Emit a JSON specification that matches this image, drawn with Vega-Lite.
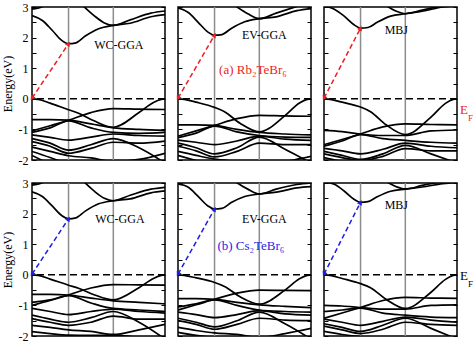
{
"$schema":"https://vega.github.io/schema/vega-lite/v6.json",
"padding":{"left":0,"top":0,"right":0,"bottom":0},
"config":{"view":{"stroke":"black","strokeWidth":1.5},"font":"Liberation Serif","axis":{"labelFont":"Liberation Serif","titleFont":"Liberation Serif","labelFontSize":12,"titleFontSize":12,"titleFontWeight":"normal","labelColor":"black","titleColor":"black","tickColor":"black","domain":false,"grid":false},"text":{"font":"Liberation Serif"}},
"datasets":{
"kp":[{"x":0.707},{"x":1.573}],
"arrows":[
{"p":"a1","c":"a","end":"bot","x":0,"e":0.02},{"p":"a1","c":"a","end":"top","x":0.707,"e":1.8},
{"p":"a2","c":"a","end":"bot","x":0,"e":0.02},{"p":"a2","c":"a","end":"top","x":0.707,"e":2.08},
{"p":"a3","c":"a","end":"bot","x":0,"e":0.02},{"p":"a3","c":"a","end":"top","x":0.707,"e":2.31},
{"p":"b1","c":"b","end":"bot","x":0,"e":0.02},{"p":"b1","c":"b","end":"top","x":0.707,"e":1.83},
{"p":"b2","c":"b","end":"bot","x":0,"e":0.02},{"p":"b2","c":"b","end":"top","x":0.707,"e":2.15},
{"p":"b3","c":"b","end":"bot","x":0,"e":0.02},{"p":"b3","c":"b","end":"top","x":0.707,"e":2.37}],
"texts":[
{"p":"a1","r":"lab","t":"WC-GGA","x":1.68,"e":1.77,"c":"k"},
{"p":"a2","r":"lab","t":"EV-GGA","x":1.67,"e":2.07,"c":"k"},
{"p":"a2","r":"mat","t":"(a) Rb₂TeBr₆","x":1.45,"e":0.93,"c":"a"},
{"p":"a3","r":"lab","t":"MBJ","x":1.4,"e":2.24,"c":"k"},
{"p":"a3","r":"E","t":"E","x":2.573,"e":-0.37,"c":"a"},
{"p":"a3","r":"F","t":"F","x":2.573,"e":-0.62,"c":"a"},
{"p":"b1","r":"lab","t":"WC-GGA","x":1.7,"e":1.81,"c":"k"},
{"p":"b2","r":"lab","t":"EV-GGA","x":1.67,"e":1.83,"c":"k"},
{"p":"b2","r":"mat","t":"(b) Cs₂TeBr₆","x":1.41,"e":0.93,"c":"b"},
{"p":"b3","r":"lab","t":"MBJ","x":1.4,"e":2.28,"c":"k"},
{"p":"b3","r":"E","t":"E","x":2.573,"e":-0.05,"c":"k"},
{"p":"b3","r":"F","t":"F","x":2.573,"e":-0.3,"c":"k"}],
"bands":[
{"p":"a1","b":"c1","x":0,"e":2.72},{"p":"a1","b":"c1","x":0.2,"e":2.56},{"p":"a1","b":"c1","x":0.39,"e":2.24},{"p":"a1","b":"c1","x":0.58,"e":1.9},{"p":"a1","b":"c1","x":0.707,"e":1.8},{"p":"a1","b":"c1","x":0.85,"e":1.83},{"p":"a1","b":"c1","x":1.03,"e":2.05},{"p":"a1","b":"c1","x":1.29,"e":2.29},{"p":"a1","b":"c1","x":1.573,"e":2.4},{"p":"a1","b":"c1","x":1.9,"e":2.47},{"p":"a1","b":"c1","x":2.3,"e":2.68},{"p":"a1","b":"c1","x":2.573,"e":2.75},
{"p":"a1","b":"c2","x":0.98,"e":3.05},{"p":"a1","b":"c2","x":1.2,"e":2.72},{"p":"a1","b":"c2","x":1.4,"e":2.48},{"p":"a1","b":"c2","x":1.573,"e":2.4},{"p":"a1","b":"c2","x":1.9,"e":2.58},{"p":"a1","b":"c2","x":2.3,"e":2.8},{"p":"a1","b":"c2","x":2.573,"e":2.87},
{"p":"a1","b":"c3","x":0,"e":2.93},{"p":"a1","b":"c3","x":0.15,"e":2.98},{"p":"a1","b":"c3","x":0.3,"e":3.08},
{"p":"a1","b":"c4","x":0,"e":2.97},{"p":"a1","b":"c4","x":0.08,"e":3.03},
{"p":"a1","b":"v1","x":0,"e":0},{"p":"a1","b":"v1","x":0.12,"e":-0.02},{"p":"a1","b":"v1","x":0.35,"e":-0.14},{"p":"a1","b":"v1","x":0.707,"e":-0.36},{"p":"a1","b":"v1","x":0.9,"e":-0.47},{"p":"a1","b":"v1","x":1.2,"e":-0.72},{"p":"a1","b":"v1","x":1.573,"e":-0.93},{"p":"a1","b":"v1","x":2.07,"e":-0.45},{"p":"a1","b":"v1","x":2.35,"e":-0.12},{"p":"a1","b":"v1","x":2.5,"e":-0.02},{"p":"a1","b":"v1","x":2.573,"e":0},
{"p":"a1","b":"v2","x":0,"e":-1.05},{"p":"a1","b":"v2","x":0.35,"e":-0.88},{"p":"a1","b":"v2","x":0.707,"e":-0.7},{"p":"a1","b":"v2","x":1.14,"e":-0.45},{"p":"a1","b":"v2","x":1.573,"e":-0.32},{"p":"a1","b":"v2","x":2.07,"e":-0.34},{"p":"a1","b":"v2","x":2.573,"e":-0.35},
{"p":"a1","b":"v3","x":0,"e":-0.68},{"p":"a1","b":"v3","x":0.35,"e":-0.68},{"p":"a1","b":"v3","x":0.707,"e":-0.7},{"p":"a1","b":"v3","x":1.14,"e":-0.82},{"p":"a1","b":"v3","x":1.573,"e":-0.95},{"p":"a1","b":"v3","x":2.07,"e":-1.0},{"p":"a1","b":"v3","x":2.573,"e":-1.03},
{"p":"a1","b":"v4","x":0,"e":-1.1},{"p":"a1","b":"v4","x":0.35,"e":-0.95},{"p":"a1","b":"v4","x":0.707,"e":-0.72},{"p":"a1","b":"v4","x":1.14,"e":-0.95},{"p":"a1","b":"v4","x":1.573,"e":-1.1},{"p":"a1","b":"v4","x":2.07,"e":-1.13},{"p":"a1","b":"v4","x":2.573,"e":-1.1},
{"p":"a1","b":"v5","x":0,"e":-1.18},{"p":"a1","b":"v5","x":0.35,"e":-1.26},{"p":"a1","b":"v5","x":0.707,"e":-1.35},{"p":"a1","b":"v5","x":1.14,"e":-1.25},{"p":"a1","b":"v5","x":1.573,"e":-1.15},{"p":"a1","b":"v5","x":2.07,"e":-1.2},{"p":"a1","b":"v5","x":2.573,"e":-1.22},
{"p":"a1","b":"v6","x":0,"e":-1.3},{"p":"a1","b":"v6","x":0.35,"e":-1.45},{"p":"a1","b":"v6","x":0.707,"e":-1.68},{"p":"a1","b":"v6","x":1.14,"e":-1.5},{"p":"a1","b":"v6","x":1.573,"e":-1.3},{"p":"a1","b":"v6","x":2.07,"e":-1.6},{"p":"a1","b":"v6","x":2.573,"e":-2.1},
{"p":"a1","b":"v7","x":0,"e":-1.4},{"p":"a1","b":"v7","x":0.35,"e":-1.55},{"p":"a1","b":"v7","x":0.707,"e":-1.78},{"p":"a1","b":"v7","x":1.14,"e":-1.62},{"p":"a1","b":"v7","x":1.573,"e":-1.42},{"p":"a1","b":"v7","x":2.07,"e":-1.45},{"p":"a1","b":"v7","x":2.573,"e":-1.38},
{"p":"a1","b":"v8","x":0,"e":-1.58},{"p":"a1","b":"v8","x":0.35,"e":-1.72},{"p":"a1","b":"v8","x":0.707,"e":-1.86},{"p":"a1","b":"v8","x":1.14,"e":-1.93},{"p":"a1","b":"v8","x":1.573,"e":-2.05},{"p":"a1","b":"v8","x":2.07,"e":-1.98},{"p":"a1","b":"v8","x":2.573,"e":-1.78},
{"p":"a1","b":"v9","x":0,"e":-1.72},{"p":"a1","b":"v9","x":0.35,"e":-1.92},{"p":"a1","b":"v9","x":0.707,"e":-2.15},
{"p":"a1","b":"v10","x":0,"e":-1.85},{"p":"a1","b":"v10","x":0.3,"e":-2.1},
{"p":"a2","b":"c1","x":0,"e":2.97},{"p":"a2","b":"c1","x":0.2,"e":2.82},{"p":"a2","b":"c1","x":0.39,"e":2.5},{"p":"a2","b":"c1","x":0.58,"e":2.18},{"p":"a2","b":"c1","x":0.707,"e":2.08},{"p":"a2","b":"c1","x":0.85,"e":2.1},{"p":"a2","b":"c1","x":1.03,"e":2.3},{"p":"a2","b":"c1","x":1.29,"e":2.52},{"p":"a2","b":"c1","x":1.573,"e":2.62},{"p":"a2","b":"c1","x":1.9,"e":2.68},{"p":"a2","b":"c1","x":2.3,"e":2.88},{"p":"a2","b":"c1","x":2.573,"e":2.95},
{"p":"a2","b":"c2","x":1.1,"e":3.05},{"p":"a2","b":"c2","x":1.35,"e":2.78},{"p":"a2","b":"c2","x":1.573,"e":2.62},{"p":"a2","b":"c2","x":1.9,"e":2.8},{"p":"a2","b":"c2","x":2.3,"e":3.02},
{"p":"a2","b":"v1","x":0,"e":0},{"p":"a2","b":"v1","x":0.12,"e":-0.02},{"p":"a2","b":"v1","x":0.35,"e":-0.11},{"p":"a2","b":"v1","x":0.707,"e":-0.28},{"p":"a2","b":"v1","x":0.9,"e":-0.42},{"p":"a2","b":"v1","x":1.2,"e":-0.8},{"p":"a2","b":"v1","x":1.573,"e":-1.08},{"p":"a2","b":"v1","x":2.07,"e":-0.55},{"p":"a2","b":"v1","x":2.35,"e":-0.14},{"p":"a2","b":"v1","x":2.5,"e":-0.02},{"p":"a2","b":"v1","x":2.573,"e":0},
{"p":"a2","b":"v2","x":0,"e":-1.22},{"p":"a2","b":"v2","x":0.35,"e":-1.05},{"p":"a2","b":"v2","x":0.707,"e":-0.87},{"p":"a2","b":"v2","x":1.14,"e":-0.65},{"p":"a2","b":"v2","x":1.573,"e":-0.54},{"p":"a2","b":"v2","x":2.07,"e":-0.56},{"p":"a2","b":"v2","x":2.573,"e":-0.57},
{"p":"a2","b":"v3","x":0,"e":-0.85},{"p":"a2","b":"v3","x":0.35,"e":-0.85},{"p":"a2","b":"v3","x":0.707,"e":-0.87},{"p":"a2","b":"v3","x":1.14,"e":-1.0},{"p":"a2","b":"v3","x":1.573,"e":-1.1},{"p":"a2","b":"v3","x":2.07,"e":-1.15},{"p":"a2","b":"v3","x":2.573,"e":-1.18},
{"p":"a2","b":"v4","x":0,"e":-1.27},{"p":"a2","b":"v4","x":0.35,"e":-1.12},{"p":"a2","b":"v4","x":0.707,"e":-0.89},{"p":"a2","b":"v4","x":1.14,"e":-1.08},{"p":"a2","b":"v4","x":1.573,"e":-1.2},{"p":"a2","b":"v4","x":2.07,"e":-1.25},{"p":"a2","b":"v4","x":2.573,"e":-1.26},
{"p":"a2","b":"v5","x":0,"e":-1.35},{"p":"a2","b":"v5","x":0.35,"e":-1.42},{"p":"a2","b":"v5","x":0.707,"e":-1.5},{"p":"a2","b":"v5","x":1.14,"e":-1.38},{"p":"a2","b":"v5","x":1.573,"e":-1.22},{"p":"a2","b":"v5","x":2.07,"e":-1.32},{"p":"a2","b":"v5","x":2.573,"e":-1.36},
{"p":"a2","b":"v6","x":0,"e":-1.45},{"p":"a2","b":"v6","x":0.35,"e":-1.6},{"p":"a2","b":"v6","x":0.707,"e":-1.8},{"p":"a2","b":"v6","x":1.14,"e":-1.6},{"p":"a2","b":"v6","x":1.573,"e":-1.25},{"p":"a2","b":"v6","x":2.07,"e":-1.65},{"p":"a2","b":"v6","x":2.573,"e":-2.1},
{"p":"a2","b":"v7","x":0,"e":-1.55},{"p":"a2","b":"v7","x":0.35,"e":-1.7},{"p":"a2","b":"v7","x":0.707,"e":-1.9},{"p":"a2","b":"v7","x":1.14,"e":-1.72},{"p":"a2","b":"v7","x":1.573,"e":-1.45},{"p":"a2","b":"v7","x":2.07,"e":-1.5},{"p":"a2","b":"v7","x":2.573,"e":-1.5},
{"p":"a2","b":"v8","x":0,"e":-1.72},{"p":"a2","b":"v8","x":0.35,"e":-1.85},{"p":"a2","b":"v8","x":0.707,"e":-1.97},{"p":"a2","b":"v8","x":1.14,"e":-2.05},{"p":"a2","b":"v8","x":1.573,"e":-2.15},{"p":"a2","b":"v8","x":2.07,"e":-2.05},{"p":"a2","b":"v8","x":2.573,"e":-1.88},
{"p":"a2","b":"v9","x":0,"e":-1.85},{"p":"a2","b":"v9","x":0.35,"e":-2.02},{"p":"a2","b":"v9","x":0.707,"e":-2.2},
{"p":"a3","b":"c1","x":0,"e":3.03},{"p":"a3","b":"c1","x":0.2,"e":2.93},{"p":"a3","b":"c1","x":0.39,"e":2.7},{"p":"a3","b":"c1","x":0.58,"e":2.42},{"p":"a3","b":"c1","x":0.707,"e":2.31},{"p":"a3","b":"c1","x":0.85,"e":2.33},{"p":"a3","b":"c1","x":1.03,"e":2.5},{"p":"a3","b":"c1","x":1.29,"e":2.7},{"p":"a3","b":"c1","x":1.573,"e":2.78},{"p":"a3","b":"c1","x":1.9,"e":2.86},{"p":"a3","b":"c1","x":2.3,"e":3.0},{"p":"a3","b":"c1","x":2.573,"e":3.05},
{"p":"a3","b":"c2","x":1.2,"e":3.05},{"p":"a3","b":"c2","x":1.4,"e":2.86},{"p":"a3","b":"c2","x":1.573,"e":2.78},{"p":"a3","b":"c2","x":1.9,"e":2.9},{"p":"a3","b":"c2","x":2.3,"e":3.05},
{"p":"a3","b":"v1","x":0,"e":0},{"p":"a3","b":"v1","x":0.12,"e":-0.02},{"p":"a3","b":"v1","x":0.35,"e":-0.11},{"p":"a3","b":"v1","x":0.707,"e":-0.27},{"p":"a3","b":"v1","x":0.9,"e":-0.42},{"p":"a3","b":"v1","x":1.2,"e":-0.85},{"p":"a3","b":"v1","x":1.573,"e":-1.17},{"p":"a3","b":"v1","x":2.07,"e":-0.6},{"p":"a3","b":"v1","x":2.35,"e":-0.15},{"p":"a3","b":"v1","x":2.5,"e":-0.02},{"p":"a3","b":"v1","x":2.573,"e":0},
{"p":"a3","b":"v2","x":0,"e":-1.5},{"p":"a3","b":"v2","x":0.35,"e":-1.33},{"p":"a3","b":"v2","x":0.707,"e":-1.15},{"p":"a3","b":"v2","x":1.14,"e":-0.92},{"p":"a3","b":"v2","x":1.573,"e":-0.82},{"p":"a3","b":"v2","x":2.07,"e":-0.84},{"p":"a3","b":"v2","x":2.573,"e":-0.85},
{"p":"a3","b":"v3","x":0,"e":-1.03},{"p":"a3","b":"v3","x":0.35,"e":-1.07},{"p":"a3","b":"v3","x":0.707,"e":-1.15},{"p":"a3","b":"v3","x":1.14,"e":-1.2},{"p":"a3","b":"v3","x":1.573,"e":-1.2},{"p":"a3","b":"v3","x":2.07,"e":-1.05},{"p":"a3","b":"v3","x":2.573,"e":-1.02},
{"p":"a3","b":"v4","x":0,"e":-1.55},{"p":"a3","b":"v4","x":0.35,"e":-1.38},{"p":"a3","b":"v4","x":0.707,"e":-1.17},{"p":"a3","b":"v4","x":1.14,"e":-1.3},{"p":"a3","b":"v4","x":1.573,"e":-1.36},{"p":"a3","b":"v4","x":2.07,"e":-1.42},{"p":"a3","b":"v4","x":2.573,"e":-1.45},
{"p":"a3","b":"v5","x":0,"e":-1.62},{"p":"a3","b":"v5","x":0.35,"e":-1.7},{"p":"a3","b":"v5","x":0.707,"e":-1.8},{"p":"a3","b":"v5","x":1.14,"e":-1.65},{"p":"a3","b":"v5","x":1.573,"e":-1.45},{"p":"a3","b":"v5","x":2.07,"e":-1.55},{"p":"a3","b":"v5","x":2.573,"e":-1.6},
{"p":"a3","b":"v6","x":0,"e":-1.72},{"p":"a3","b":"v6","x":0.35,"e":-1.85},{"p":"a3","b":"v6","x":0.707,"e":-1.98},{"p":"a3","b":"v6","x":1.14,"e":-1.8},{"p":"a3","b":"v6","x":1.573,"e":-1.52},{"p":"a3","b":"v6","x":2.07,"e":-1.8},{"p":"a3","b":"v6","x":2.573,"e":-2.1},
{"p":"a3","b":"v7","x":0,"e":-1.8},{"p":"a3","b":"v7","x":0.35,"e":-1.92},{"p":"a3","b":"v7","x":0.707,"e":-2.02},{"p":"a3","b":"v7","x":1.14,"e":-1.88},{"p":"a3","b":"v7","x":1.573,"e":-1.63},{"p":"a3","b":"v7","x":2.07,"e":-1.7},{"p":"a3","b":"v7","x":2.573,"e":-1.7},
{"p":"a3","b":"v8","x":0,"e":-1.92},{"p":"a3","b":"v8","x":0.35,"e":-2.05},{"p":"a3","b":"v8","x":0.707,"e":-2.15},
{"p":"b1","b":"c1","x":0,"e":2.71},{"p":"b1","b":"c1","x":0.2,"e":2.56},{"p":"b1","b":"c1","x":0.39,"e":2.25},{"p":"b1","b":"c1","x":0.58,"e":1.93},{"p":"b1","b":"c1","x":0.707,"e":1.83},{"p":"b1","b":"c1","x":0.85,"e":1.86},{"p":"b1","b":"c1","x":1.03,"e":2.08},{"p":"b1","b":"c1","x":1.29,"e":2.32},{"p":"b1","b":"c1","x":1.573,"e":2.42},{"p":"b1","b":"c1","x":1.9,"e":2.48},{"p":"b1","b":"c1","x":2.3,"e":2.68},{"p":"b1","b":"c1","x":2.573,"e":2.74},
{"p":"b1","b":"c2","x":1.0,"e":3.05},{"p":"b1","b":"c2","x":1.2,"e":2.74},{"p":"b1","b":"c2","x":1.4,"e":2.5},{"p":"b1","b":"c2","x":1.573,"e":2.42},{"p":"b1","b":"c2","x":1.9,"e":2.6},{"p":"b1","b":"c2","x":2.3,"e":2.8},{"p":"b1","b":"c2","x":2.573,"e":2.86},
{"p":"b1","b":"c3","x":0,"e":2.93},{"p":"b1","b":"c3","x":0.15,"e":2.98},{"p":"b1","b":"c3","x":0.3,"e":3.08},
{"p":"b1","b":"c4","x":0,"e":2.97},{"p":"b1","b":"c4","x":0.08,"e":3.03},
{"p":"b1","b":"v1","x":0,"e":0},{"p":"b1","b":"v1","x":0.12,"e":-0.02},{"p":"b1","b":"v1","x":0.35,"e":-0.14},{"p":"b1","b":"v1","x":0.707,"e":-0.34},{"p":"b1","b":"v1","x":0.9,"e":-0.44},{"p":"b1","b":"v1","x":1.2,"e":-0.65},{"p":"b1","b":"v1","x":1.573,"e":-0.82},{"p":"b1","b":"v1","x":2.07,"e":-0.42},{"p":"b1","b":"v1","x":2.35,"e":-0.12},{"p":"b1","b":"v1","x":2.5,"e":-0.02},{"p":"b1","b":"v1","x":2.573,"e":0},
{"p":"b1","b":"v2","x":0,"e":-1.0},{"p":"b1","b":"v2","x":0.35,"e":-0.84},{"p":"b1","b":"v2","x":0.707,"e":-0.66},{"p":"b1","b":"v2","x":1.14,"e":-0.43},{"p":"b1","b":"v2","x":1.573,"e":-0.32},{"p":"b1","b":"v2","x":2.07,"e":-0.33},{"p":"b1","b":"v2","x":2.573,"e":-0.34},
{"p":"b1","b":"v3","x":0,"e":-0.64},{"p":"b1","b":"v3","x":0.35,"e":-0.64},{"p":"b1","b":"v3","x":0.707,"e":-0.66},{"p":"b1","b":"v3","x":1.14,"e":-0.76},{"p":"b1","b":"v3","x":1.573,"e":-0.85},{"p":"b1","b":"v3","x":2.07,"e":-0.9},{"p":"b1","b":"v3","x":2.573,"e":-0.95},
{"p":"b1","b":"v4","x":0,"e":-0.9},{"p":"b1","b":"v4","x":0.35,"e":-0.82},{"p":"b1","b":"v4","x":0.707,"e":-0.68},{"p":"b1","b":"v4","x":1.14,"e":-0.92},{"p":"b1","b":"v4","x":1.573,"e":-1.1},{"p":"b1","b":"v4","x":2.07,"e":-1.15},{"p":"b1","b":"v4","x":2.573,"e":-1.2},
{"p":"b1","b":"v5","x":0,"e":-1.1},{"p":"b1","b":"v5","x":0.35,"e":-1.2},{"p":"b1","b":"v5","x":0.707,"e":-1.3},{"p":"b1","b":"v5","x":1.14,"e":-1.2},{"p":"b1","b":"v5","x":1.573,"e":-1.12},{"p":"b1","b":"v5","x":2.07,"e":-1.2},{"p":"b1","b":"v5","x":2.573,"e":-1.25},
{"p":"b1","b":"v6","x":0,"e":-1.32},{"p":"b1","b":"v6","x":0.35,"e":-1.45},{"p":"b1","b":"v6","x":0.707,"e":-1.55},{"p":"b1","b":"v6","x":1.14,"e":-1.4},{"p":"b1","b":"v6","x":1.573,"e":-1.2},{"p":"b1","b":"v6","x":2.07,"e":-1.55},{"p":"b1","b":"v6","x":2.573,"e":-2.1},
{"p":"b1","b":"v7","x":0,"e":-1.43},{"p":"b1","b":"v7","x":0.35,"e":-1.55},{"p":"b1","b":"v7","x":0.707,"e":-1.65},{"p":"b1","b":"v7","x":1.14,"e":-1.55},{"p":"b1","b":"v7","x":1.573,"e":-1.35},{"p":"b1","b":"v7","x":2.07,"e":-1.45},{"p":"b1","b":"v7","x":2.573,"e":-1.45},
{"p":"b1","b":"v8","x":0,"e":-1.65},{"p":"b1","b":"v8","x":0.35,"e":-1.72},{"p":"b1","b":"v8","x":0.707,"e":-1.8},{"p":"b1","b":"v8","x":1.14,"e":-1.85},{"p":"b1","b":"v8","x":1.573,"e":-1.95},{"p":"b1","b":"v8","x":2.07,"e":-1.8},{"p":"b1","b":"v8","x":2.573,"e":-1.62},
{"p":"b1","b":"v9","x":0,"e":-1.86},{"p":"b1","b":"v9","x":0.35,"e":-1.92},{"p":"b1","b":"v9","x":0.707,"e":-1.97},{"p":"b1","b":"v9","x":1.14,"e":-1.98},{"p":"b1","b":"v9","x":1.573,"e":-1.98},{"p":"b1","b":"v9","x":2.07,"e":-2.05},{"p":"b1","b":"v9","x":2.573,"e":-2.2},
{"p":"b2","b":"c1","x":0,"e":2.97},{"p":"b2","b":"c1","x":0.2,"e":2.86},{"p":"b2","b":"c1","x":0.39,"e":2.56},{"p":"b2","b":"c1","x":0.58,"e":2.25},{"p":"b2","b":"c1","x":0.707,"e":2.15},{"p":"b2","b":"c1","x":0.85,"e":2.17},{"p":"b2","b":"c1","x":1.03,"e":2.36},{"p":"b2","b":"c1","x":1.29,"e":2.56},{"p":"b2","b":"c1","x":1.573,"e":2.64},{"p":"b2","b":"c1","x":1.9,"e":2.7},{"p":"b2","b":"c1","x":2.3,"e":2.84},{"p":"b2","b":"c1","x":2.573,"e":2.88},
{"p":"b2","b":"c2","x":1.1,"e":3.05},{"p":"b2","b":"c2","x":1.35,"e":2.8},{"p":"b2","b":"c2","x":1.573,"e":2.64},{"p":"b2","b":"c2","x":1.9,"e":2.8},{"p":"b2","b":"c2","x":2.3,"e":2.95},{"p":"b2","b":"c2","x":2.573,"e":3.0},
{"p":"b2","b":"v1","x":0,"e":0},{"p":"b2","b":"v1","x":0.12,"e":-0.02},{"p":"b2","b":"v1","x":0.35,"e":-0.1},{"p":"b2","b":"v1","x":0.707,"e":-0.25},{"p":"b2","b":"v1","x":0.9,"e":-0.38},{"p":"b2","b":"v1","x":1.2,"e":-0.72},{"p":"b2","b":"v1","x":1.573,"e":-0.96},{"p":"b2","b":"v1","x":2.07,"e":-0.5},{"p":"b2","b":"v1","x":2.35,"e":-0.13},{"p":"b2","b":"v1","x":2.5,"e":-0.02},{"p":"b2","b":"v1","x":2.573,"e":0},
{"p":"b2","b":"v2","x":0,"e":-1.15},{"p":"b2","b":"v2","x":0.35,"e":-0.98},{"p":"b2","b":"v2","x":0.707,"e":-0.8},{"p":"b2","b":"v2","x":1.14,"e":-0.6},{"p":"b2","b":"v2","x":1.573,"e":-0.5},{"p":"b2","b":"v2","x":2.07,"e":-0.51},{"p":"b2","b":"v2","x":2.573,"e":-0.52},
{"p":"b2","b":"v3","x":0,"e":-0.78},{"p":"b2","b":"v3","x":0.35,"e":-0.78},{"p":"b2","b":"v3","x":0.707,"e":-0.8},{"p":"b2","b":"v3","x":1.14,"e":-0.9},{"p":"b2","b":"v3","x":1.573,"e":-0.98},{"p":"b2","b":"v3","x":2.07,"e":-1.03},{"p":"b2","b":"v3","x":2.573,"e":-1.07},
{"p":"b2","b":"v4","x":0,"e":-1.05},{"p":"b2","b":"v4","x":0.35,"e":-0.95},{"p":"b2","b":"v4","x":0.707,"e":-0.82},{"p":"b2","b":"v4","x":1.14,"e":-1.0},{"p":"b2","b":"v4","x":1.573,"e":-1.15},{"p":"b2","b":"v4","x":2.07,"e":-1.2},{"p":"b2","b":"v4","x":2.573,"e":-1.22},
{"p":"b2","b":"v5","x":0,"e":-1.22},{"p":"b2","b":"v5","x":0.35,"e":-1.3},{"p":"b2","b":"v5","x":0.707,"e":-1.4},{"p":"b2","b":"v5","x":1.14,"e":-1.3},{"p":"b2","b":"v5","x":1.573,"e":-1.17},{"p":"b2","b":"v5","x":2.07,"e":-1.28},{"p":"b2","b":"v5","x":2.573,"e":-1.32},
{"p":"b2","b":"v6","x":0,"e":-1.42},{"p":"b2","b":"v6","x":0.35,"e":-1.55},{"p":"b2","b":"v6","x":0.707,"e":-1.7},{"p":"b2","b":"v6","x":1.14,"e":-1.5},{"p":"b2","b":"v6","x":1.573,"e":-1.22},{"p":"b2","b":"v6","x":2.07,"e":-1.6},{"p":"b2","b":"v6","x":2.573,"e":-2.1},
{"p":"b2","b":"v7","x":0,"e":-1.5},{"p":"b2","b":"v7","x":0.35,"e":-1.62},{"p":"b2","b":"v7","x":0.707,"e":-1.78},{"p":"b2","b":"v7","x":1.14,"e":-1.62},{"p":"b2","b":"v7","x":1.573,"e":-1.42},{"p":"b2","b":"v7","x":2.07,"e":-1.48},{"p":"b2","b":"v7","x":2.573,"e":-1.5},
{"p":"b2","b":"v8","x":0,"e":-1.72},{"p":"b2","b":"v8","x":0.35,"e":-1.82},{"p":"b2","b":"v8","x":0.707,"e":-1.9},{"p":"b2","b":"v8","x":1.14,"e":-1.95},{"p":"b2","b":"v8","x":1.573,"e":-2.05},{"p":"b2","b":"v8","x":2.07,"e":-1.92},{"p":"b2","b":"v8","x":2.573,"e":-1.75},
{"p":"b2","b":"v9","x":0,"e":-1.88},{"p":"b2","b":"v9","x":0.35,"e":-1.98},{"p":"b2","b":"v9","x":0.707,"e":-2.05},{"p":"b2","b":"v9","x":1.14,"e":-2.1},
{"p":"b3","b":"c1","x":0,"e":3.04},{"p":"b3","b":"c1","x":0.2,"e":2.96},{"p":"b3","b":"c1","x":0.39,"e":2.74},{"p":"b3","b":"c1","x":0.58,"e":2.47},{"p":"b3","b":"c1","x":0.707,"e":2.37},{"p":"b3","b":"c1","x":0.85,"e":2.39},{"p":"b3","b":"c1","x":1.03,"e":2.55},{"p":"b3","b":"c1","x":1.29,"e":2.73},{"p":"b3","b":"c1","x":1.573,"e":2.8},{"p":"b3","b":"c1","x":1.9,"e":2.87},{"p":"b3","b":"c1","x":2.3,"e":2.98},{"p":"b3","b":"c1","x":2.573,"e":3.02},
{"p":"b3","b":"c2","x":1.2,"e":3.05},{"p":"b3","b":"c2","x":1.4,"e":2.88},{"p":"b3","b":"c2","x":1.573,"e":2.8},{"p":"b3","b":"c2","x":1.9,"e":2.92},{"p":"b3","b":"c2","x":2.3,"e":3.05},
{"p":"b3","b":"v1","x":0,"e":0},{"p":"b3","b":"v1","x":0.12,"e":-0.02},{"p":"b3","b":"v1","x":0.35,"e":-0.12},{"p":"b3","b":"v1","x":0.707,"e":-0.29},{"p":"b3","b":"v1","x":0.9,"e":-0.42},{"p":"b3","b":"v1","x":1.2,"e":-0.8},{"p":"b3","b":"v1","x":1.573,"e":-1.1},{"p":"b3","b":"v1","x":2.07,"e":-0.57},{"p":"b3","b":"v1","x":2.35,"e":-0.15},{"p":"b3","b":"v1","x":2.5,"e":-0.02},{"p":"b3","b":"v1","x":2.573,"e":0},
{"p":"b3","b":"v2","x":0,"e":-1.42},{"p":"b3","b":"v2","x":0.35,"e":-1.25},{"p":"b3","b":"v2","x":0.707,"e":-1.07},{"p":"b3","b":"v2","x":1.14,"e":-0.84},{"p":"b3","b":"v2","x":1.573,"e":-0.74},{"p":"b3","b":"v2","x":2.07,"e":-0.76},{"p":"b3","b":"v2","x":2.573,"e":-0.77},
{"p":"b3","b":"v3","x":0,"e":-1.0},{"p":"b3","b":"v3","x":0.35,"e":-1.02},{"p":"b3","b":"v3","x":0.707,"e":-1.07},{"p":"b3","b":"v3","x":1.14,"e":-1.12},{"p":"b3","b":"v3","x":1.573,"e":-1.12},{"p":"b3","b":"v3","x":2.07,"e":-1.0},{"p":"b3","b":"v3","x":2.573,"e":-0.98},
{"p":"b3","b":"v4","x":0,"e":-1.2},{"p":"b3","b":"v4","x":0.35,"e":-1.15},{"p":"b3","b":"v4","x":0.707,"e":-1.09},{"p":"b3","b":"v4","x":1.14,"e":-1.25},{"p":"b3","b":"v4","x":1.573,"e":-1.32},{"p":"b3","b":"v4","x":2.07,"e":-1.38},{"p":"b3","b":"v4","x":2.573,"e":-1.4},
{"p":"b3","b":"v5","x":0,"e":-1.45},{"p":"b3","b":"v5","x":0.35,"e":-1.55},{"p":"b3","b":"v5","x":0.707,"e":-1.65},{"p":"b3","b":"v5","x":1.14,"e":-1.52},{"p":"b3","b":"v5","x":1.573,"e":-1.38},{"p":"b3","b":"v5","x":2.07,"e":-1.48},{"p":"b3","b":"v5","x":2.573,"e":-1.55},
{"p":"b3","b":"v6","x":0,"e":-1.6},{"p":"b3","b":"v6","x":0.35,"e":-1.72},{"p":"b3","b":"v6","x":0.707,"e":-1.85},{"p":"b3","b":"v6","x":1.14,"e":-1.65},{"p":"b3","b":"v6","x":1.573,"e":-1.42},{"p":"b3","b":"v6","x":2.07,"e":-1.75},{"p":"b3","b":"v6","x":2.573,"e":-2.1},
{"p":"b3","b":"v7","x":0,"e":-1.68},{"p":"b3","b":"v7","x":0.35,"e":-1.8},{"p":"b3","b":"v7","x":0.707,"e":-1.92},{"p":"b3","b":"v7","x":1.14,"e":-1.78},{"p":"b3","b":"v7","x":1.573,"e":-1.55},{"p":"b3","b":"v7","x":2.07,"e":-1.62},{"p":"b3","b":"v7","x":2.573,"e":-1.65},
{"p":"b3","b":"v8","x":0,"e":-1.85},{"p":"b3","b":"v8","x":0.35,"e":-1.95},{"p":"b3","b":"v8","x":0.707,"e":-2.02},{"p":"b3","b":"v8","x":1.14,"e":-2.05}
]},
"bounds":"flush",
"columns":3,
"spacing":{"row":23,"column":13},
"concat":[
{"width":133,"height":153,"resolve":{"axis":{"y":"independent"}},"layer":[
{"data":{"name":"kp"},"mark":{"type":"rule","color":"#8c8c8c","strokeWidth":1.5},"encoding":{"x":{"field":"x","type":"quantitative","scale":{"domain":[0,2.573],"nice":false,"zero":false},"axis":{"values":[0,0.707,1.573,2.573],"labelExpr":"datum.value < 0.3 ? 'W' : datum.value < 1 ? 'L' : datum.value < 2 ? 'Γ' : 'X'","ticks":false,"labelPadding":3,"labelFlush":false,"labelOverlap":false,"labelBound":false,"title":null}}}},
{"data":{"values":[{}]},"mark":{"type":"rule","color":"black","strokeWidth":1.5,"strokeDash":[7,4]},"encoding":{"y":{"datum":0,"type":"quantitative","scale":{"domain":[-2,3],"nice":false,"zero":false},"axis":{"orient":"right","values":[-2,-1.5,-1,-0.5,0,0.5,1,1.5,2,2.5,3],"labels":false,"tickSize":-4,"title":null}}}},
{"data":{"name":"bands"},"transform":[{"filter":{"field":"p","equal":"a1"}}],"mark":{"type":"line","interpolate":"monotone","color":"black","strokeWidth":1.7,"clip":true},"encoding":{"x":{"field":"x","type":"quantitative","scale":{"domain":[0,2.573],"nice":false,"zero":false},"axis":null},"y":{"field":"e","type":"quantitative","scale":{"domain":[-2,3],"nice":false,"zero":false},"axis":{"values":[-2,-1.5,-1,-0.5,0,0.5,1,1.5,2,2.5,3],"labelExpr":"datum.value % 1 == 0 ? '' + datum.value : ''","tickSize":-4,"labelPadding":8,"labelFlush":false,"labelOverlap":false,"labelBound":false,"title":"Energy(eV)","titlePadding":4}},"detail":{"field":"b"}}},
{"data":{"name":"arrows"},"transform":[{"filter":{"field":"p","equal":"a1"}}],"mark":{"type":"line","strokeWidth":1.5,"strokeDash":[5,3]},"encoding":{"x":{"field":"x","type":"quantitative","scale":{"domain":[0,2.573],"nice":false,"zero":false},"axis":null},"y":{"field":"e","type":"quantitative","scale":{"domain":[-2,3],"nice":false,"zero":false},"axis":null},"color":{"field":"c","type":"nominal","scale":{"domain":["a","b","k"],"range":["#ee1d23","#1d1de6","#000000"]},"legend":null}}},
{"data":{"name":"arrows"},"transform":[{"filter":"datum.p == 'a1' && datum.end == 'top'"}],"mark":{"type":"point","shape":"triangle-up","filled":true,"size":30,"angle":33,"opacity":1},"encoding":{"x":{"field":"x","type":"quantitative","scale":{"domain":[0,2.573],"nice":false,"zero":false},"axis":null},"y":{"field":"e","type":"quantitative","scale":{"domain":[-2,3],"nice":false,"zero":false},"axis":null},"color":{"field":"c","type":"nominal","scale":{"domain":["a","b","k"],"range":["#ee1d23","#1d1de6","#000000"]},"legend":null}}},
{"data":{"name":"arrows"},"transform":[{"filter":"datum.p == 'a1' && datum.end == 'bot'"}],"mark":{"type":"point","shape":"triangle-up","filled":true,"size":30,"angle":213,"opacity":1},"encoding":{"x":{"field":"x","type":"quantitative","scale":{"domain":[0,2.573],"nice":false,"zero":false},"axis":null},"y":{"field":"e","type":"quantitative","scale":{"domain":[-2,3],"nice":false,"zero":false},"axis":null},"color":{"field":"c","type":"nominal","scale":{"domain":["a","b","k"],"range":["#ee1d23","#1d1de6","#000000"]},"legend":null}}},
{"data":{"name":"texts"},"transform":[{"filter":"datum.p == 'a1' && datum.r == 'lab'"}],"mark":{"type":"text","fontSize":12,"align":"center","baseline":"middle"},"encoding":{"x":{"field":"x","type":"quantitative","scale":{"domain":[0,2.573],"nice":false,"zero":false},"axis":null},"y":{"field":"e","type":"quantitative","scale":{"domain":[-2,3],"nice":false,"zero":false},"axis":null},"text":{"field":"t"},"color":{"field":"c","type":"nominal","scale":{"domain":["a","b","k"],"range":["#ee1d23","#1d1de6","#000000"]},"legend":null}}}
]},
{"width":133,"height":153,"resolve":{"axis":{"y":"independent"}},"layer":[
{"data":{"name":"kp"},"mark":{"type":"rule","color":"#8c8c8c","strokeWidth":1.5},"encoding":{"x":{"field":"x","type":"quantitative","scale":{"domain":[0,2.573],"nice":false,"zero":false},"axis":{"values":[0,0.707,1.573,2.573],"labelExpr":"datum.value < 0.3 ? 'W' : datum.value < 1 ? 'L' : datum.value < 2 ? 'Γ' : 'X'","ticks":false,"labelPadding":3,"labelFlush":false,"labelOverlap":false,"labelBound":false,"title":null}}}},
{"data":{"values":[{}]},"mark":{"type":"rule","color":"black","strokeWidth":1.5,"strokeDash":[7,4]},"encoding":{"y":{"datum":0,"type":"quantitative","scale":{"domain":[-2,3],"nice":false,"zero":false},"axis":{"orient":"right","values":[-2,-1.5,-1,-0.5,0,0.5,1,1.5,2,2.5,3],"labels":false,"tickSize":-4,"title":null}}}},
{"data":{"name":"bands"},"transform":[{"filter":{"field":"p","equal":"a2"}}],"mark":{"type":"line","interpolate":"monotone","color":"black","strokeWidth":1.7,"clip":true},"encoding":{"x":{"field":"x","type":"quantitative","scale":{"domain":[0,2.573],"nice":false,"zero":false},"axis":null},"y":{"field":"e","type":"quantitative","scale":{"domain":[-2,3],"nice":false,"zero":false},"axis":{"values":[-2,-1.5,-1,-0.5,0,0.5,1,1.5,2,2.5,3],"labels":false,"tickSize":-4,"title":null}},"detail":{"field":"b"}}},
{"data":{"name":"arrows"},"transform":[{"filter":{"field":"p","equal":"a2"}}],"mark":{"type":"line","strokeWidth":1.5,"strokeDash":[5,3]},"encoding":{"x":{"field":"x","type":"quantitative","scale":{"domain":[0,2.573],"nice":false,"zero":false},"axis":null},"y":{"field":"e","type":"quantitative","scale":{"domain":[-2,3],"nice":false,"zero":false},"axis":null},"color":{"field":"c","type":"nominal","scale":{"domain":["a","b","k"],"range":["#ee1d23","#1d1de6","#000000"]},"legend":null}}},
{"data":{"name":"arrows"},"transform":[{"filter":"datum.p == 'a2' && datum.end == 'top'"}],"mark":{"type":"point","shape":"triangle-up","filled":true,"size":30,"angle":30,"opacity":1},"encoding":{"x":{"field":"x","type":"quantitative","scale":{"domain":[0,2.573],"nice":false,"zero":false},"axis":null},"y":{"field":"e","type":"quantitative","scale":{"domain":[-2,3],"nice":false,"zero":false},"axis":null},"color":{"field":"c","type":"nominal","scale":{"domain":["a","b","k"],"range":["#ee1d23","#1d1de6","#000000"]},"legend":null}}},
{"data":{"name":"arrows"},"transform":[{"filter":"datum.p == 'a2' && datum.end == 'bot'"}],"mark":{"type":"point","shape":"triangle-up","filled":true,"size":30,"angle":210,"opacity":1},"encoding":{"x":{"field":"x","type":"quantitative","scale":{"domain":[0,2.573],"nice":false,"zero":false},"axis":null},"y":{"field":"e","type":"quantitative","scale":{"domain":[-2,3],"nice":false,"zero":false},"axis":null},"color":{"field":"c","type":"nominal","scale":{"domain":["a","b","k"],"range":["#ee1d23","#1d1de6","#000000"]},"legend":null}}},
{"data":{"name":"texts"},"transform":[{"filter":"datum.p == 'a2' && datum.r == 'lab'"}],"mark":{"type":"text","fontSize":12,"align":"center","baseline":"middle"},"encoding":{"x":{"field":"x","type":"quantitative","scale":{"domain":[0,2.573],"nice":false,"zero":false},"axis":null},"y":{"field":"e","type":"quantitative","scale":{"domain":[-2,3],"nice":false,"zero":false},"axis":null},"text":{"field":"t"},"color":{"field":"c","type":"nominal","scale":{"domain":["a","b","k"],"range":["#ee1d23","#1d1de6","#000000"]},"legend":null}}},
{"data":{"name":"texts"},"transform":[{"filter":"datum.p == 'a2' && datum.r == 'mat'"}],"mark":{"type":"text","fontSize":13,"align":"center","baseline":"middle"},"encoding":{"x":{"field":"x","type":"quantitative","scale":{"domain":[0,2.573],"nice":false,"zero":false},"axis":null},"y":{"field":"e","type":"quantitative","scale":{"domain":[-2,3],"nice":false,"zero":false},"axis":null},"text":{"field":"t"},"color":{"field":"c","type":"nominal","scale":{"domain":["a","b","k"],"range":["#ee1d23","#1d1de6","#000000"]},"legend":null}}}
]},
{"width":133,"height":153,"resolve":{"axis":{"y":"independent"}},"layer":[
{"data":{"name":"kp"},"mark":{"type":"rule","color":"#8c8c8c","strokeWidth":1.5},"encoding":{"x":{"field":"x","type":"quantitative","scale":{"domain":[0,2.573],"nice":false,"zero":false},"axis":{"values":[0,0.707,1.573,2.573],"labelExpr":"datum.value < 0.3 ? 'W' : datum.value < 1 ? 'L' : datum.value < 2 ? 'Γ' : 'X'","ticks":false,"labelPadding":3,"labelFlush":false,"labelOverlap":false,"labelBound":false,"title":null}}}},
{"data":{"values":[{}]},"mark":{"type":"rule","color":"black","strokeWidth":1.5,"strokeDash":[7,4]},"encoding":{"y":{"datum":0,"type":"quantitative","scale":{"domain":[-2,3],"nice":false,"zero":false},"axis":{"orient":"right","values":[-2,-1.5,-1,-0.5,0,0.5,1,1.5,2,2.5,3],"labels":false,"tickSize":-4,"title":null}}}},
{"data":{"name":"bands"},"transform":[{"filter":{"field":"p","equal":"a3"}}],"mark":{"type":"line","interpolate":"monotone","color":"black","strokeWidth":1.7,"clip":true},"encoding":{"x":{"field":"x","type":"quantitative","scale":{"domain":[0,2.573],"nice":false,"zero":false},"axis":null},"y":{"field":"e","type":"quantitative","scale":{"domain":[-2,3],"nice":false,"zero":false},"axis":{"values":[-2,-1.5,-1,-0.5,0,0.5,1,1.5,2,2.5,3],"labels":false,"tickSize":-4,"title":null}},"detail":{"field":"b"}}},
{"data":{"name":"arrows"},"transform":[{"filter":{"field":"p","equal":"a3"}}],"mark":{"type":"line","strokeWidth":1.5,"strokeDash":[5,3]},"encoding":{"x":{"field":"x","type":"quantitative","scale":{"domain":[0,2.573],"nice":false,"zero":false},"axis":null},"y":{"field":"e","type":"quantitative","scale":{"domain":[-2,3],"nice":false,"zero":false},"axis":null},"color":{"field":"c","type":"nominal","scale":{"domain":["a","b","k"],"range":["#ee1d23","#1d1de6","#000000"]},"legend":null}}},
{"data":{"name":"arrows"},"transform":[{"filter":"datum.p == 'a3' && datum.end == 'top'"}],"mark":{"type":"point","shape":"triangle-up","filled":true,"size":30,"angle":27,"opacity":1},"encoding":{"x":{"field":"x","type":"quantitative","scale":{"domain":[0,2.573],"nice":false,"zero":false},"axis":null},"y":{"field":"e","type":"quantitative","scale":{"domain":[-2,3],"nice":false,"zero":false},"axis":null},"color":{"field":"c","type":"nominal","scale":{"domain":["a","b","k"],"range":["#ee1d23","#1d1de6","#000000"]},"legend":null}}},
{"data":{"name":"arrows"},"transform":[{"filter":"datum.p == 'a3' && datum.end == 'bot'"}],"mark":{"type":"point","shape":"triangle-up","filled":true,"size":30,"angle":207,"opacity":1},"encoding":{"x":{"field":"x","type":"quantitative","scale":{"domain":[0,2.573],"nice":false,"zero":false},"axis":null},"y":{"field":"e","type":"quantitative","scale":{"domain":[-2,3],"nice":false,"zero":false},"axis":null},"color":{"field":"c","type":"nominal","scale":{"domain":["a","b","k"],"range":["#ee1d23","#1d1de6","#000000"]},"legend":null}}},
{"data":{"name":"texts"},"transform":[{"filter":"datum.p == 'a3' && datum.r == 'lab'"}],"mark":{"type":"text","fontSize":12,"align":"center","baseline":"middle"},"encoding":{"x":{"field":"x","type":"quantitative","scale":{"domain":[0,2.573],"nice":false,"zero":false},"axis":null},"y":{"field":"e","type":"quantitative","scale":{"domain":[-2,3],"nice":false,"zero":false},"axis":null},"text":{"field":"t"},"color":{"field":"c","type":"nominal","scale":{"domain":["a","b","k"],"range":["#ee1d23","#1d1de6","#000000"]},"legend":null}}},
{"data":{"name":"texts"},"transform":[{"filter":"datum.p == 'a3' && datum.r == 'E'"}],"mark":{"type":"text","fontSize":13,"align":"left","baseline":"middle","dx":3},"encoding":{"x":{"field":"x","type":"quantitative","scale":{"domain":[0,2.573],"nice":false,"zero":false},"axis":null},"y":{"field":"e","type":"quantitative","scale":{"domain":[-2,3],"nice":false,"zero":false},"axis":null},"text":{"field":"t"},"color":{"field":"c","type":"nominal","scale":{"domain":["a","b","k"],"range":["#ee1d23","#1d1de6","#000000"]},"legend":null}}},
{"data":{"name":"texts"},"transform":[{"filter":"datum.p == 'a3' && datum.r == 'F'"}],"mark":{"type":"text","fontSize":9,"align":"left","baseline":"middle","dx":11},"encoding":{"x":{"field":"x","type":"quantitative","scale":{"domain":[0,2.573],"nice":false,"zero":false},"axis":null},"y":{"field":"e","type":"quantitative","scale":{"domain":[-2,3],"nice":false,"zero":false},"axis":null},"text":{"field":"t"},"color":{"field":"c","type":"nominal","scale":{"domain":["a","b","k"],"range":["#ee1d23","#1d1de6","#000000"]},"legend":null}}}
]},
{"width":133,"height":153,"resolve":{"axis":{"y":"independent"}},"layer":[
{"data":{"name":"kp"},"mark":{"type":"rule","color":"#8c8c8c","strokeWidth":1.5},"encoding":{"x":{"field":"x","type":"quantitative","scale":{"domain":[0,2.573],"nice":false,"zero":false},"axis":{"values":[0,0.707,1.573,2.573],"labelExpr":"datum.value < 0.3 ? 'W' : datum.value < 1 ? 'L' : datum.value < 2 ? 'Γ' : 'X'","ticks":false,"labelPadding":3,"labelFlush":false,"labelOverlap":false,"labelBound":false,"title":null}}}},
{"data":{"values":[{}]},"mark":{"type":"rule","color":"black","strokeWidth":1.5,"strokeDash":[7,4]},"encoding":{"y":{"datum":0,"type":"quantitative","scale":{"domain":[-2,3],"nice":false,"zero":false},"axis":{"orient":"right","values":[-2,-1.5,-1,-0.5,0,0.5,1,1.5,2,2.5,3],"labels":false,"tickSize":-4,"title":null}}}},
{"data":{"name":"bands"},"transform":[{"filter":{"field":"p","equal":"b1"}}],"mark":{"type":"line","interpolate":"monotone","color":"black","strokeWidth":1.7,"clip":true},"encoding":{"x":{"field":"x","type":"quantitative","scale":{"domain":[0,2.573],"nice":false,"zero":false},"axis":null},"y":{"field":"e","type":"quantitative","scale":{"domain":[-2,3],"nice":false,"zero":false},"axis":{"values":[-2,-1.5,-1,-0.5,0,0.5,1,1.5,2,2.5,3],"labelExpr":"datum.value % 1 == 0 ? '' + datum.value : ''","tickSize":-4,"labelPadding":8,"labelFlush":false,"labelOverlap":false,"labelBound":false,"title":"Energy(eV)","titlePadding":4}},"detail":{"field":"b"}}},
{"data":{"name":"arrows"},"transform":[{"filter":{"field":"p","equal":"b1"}}],"mark":{"type":"line","strokeWidth":1.5,"strokeDash":[5,3]},"encoding":{"x":{"field":"x","type":"quantitative","scale":{"domain":[0,2.573],"nice":false,"zero":false},"axis":null},"y":{"field":"e","type":"quantitative","scale":{"domain":[-2,3],"nice":false,"zero":false},"axis":null},"color":{"field":"c","type":"nominal","scale":{"domain":["a","b","k"],"range":["#ee1d23","#1d1de6","#000000"]},"legend":null}}},
{"data":{"name":"arrows"},"transform":[{"filter":"datum.p == 'b1' && datum.end == 'top'"}],"mark":{"type":"point","shape":"triangle-up","filled":true,"size":30,"angle":33,"opacity":1},"encoding":{"x":{"field":"x","type":"quantitative","scale":{"domain":[0,2.573],"nice":false,"zero":false},"axis":null},"y":{"field":"e","type":"quantitative","scale":{"domain":[-2,3],"nice":false,"zero":false},"axis":null},"color":{"field":"c","type":"nominal","scale":{"domain":["a","b","k"],"range":["#ee1d23","#1d1de6","#000000"]},"legend":null}}},
{"data":{"name":"arrows"},"transform":[{"filter":"datum.p == 'b1' && datum.end == 'bot'"}],"mark":{"type":"point","shape":"triangle-up","filled":true,"size":30,"angle":213,"opacity":1},"encoding":{"x":{"field":"x","type":"quantitative","scale":{"domain":[0,2.573],"nice":false,"zero":false},"axis":null},"y":{"field":"e","type":"quantitative","scale":{"domain":[-2,3],"nice":false,"zero":false},"axis":null},"color":{"field":"c","type":"nominal","scale":{"domain":["a","b","k"],"range":["#ee1d23","#1d1de6","#000000"]},"legend":null}}},
{"data":{"name":"texts"},"transform":[{"filter":"datum.p == 'b1' && datum.r == 'lab'"}],"mark":{"type":"text","fontSize":12,"align":"center","baseline":"middle"},"encoding":{"x":{"field":"x","type":"quantitative","scale":{"domain":[0,2.573],"nice":false,"zero":false},"axis":null},"y":{"field":"e","type":"quantitative","scale":{"domain":[-2,3],"nice":false,"zero":false},"axis":null},"text":{"field":"t"},"color":{"field":"c","type":"nominal","scale":{"domain":["a","b","k"],"range":["#ee1d23","#1d1de6","#000000"]},"legend":null}}}
]},
{"width":133,"height":153,"resolve":{"axis":{"y":"independent"}},"layer":[
{"data":{"name":"kp"},"mark":{"type":"rule","color":"#8c8c8c","strokeWidth":1.5},"encoding":{"x":{"field":"x","type":"quantitative","scale":{"domain":[0,2.573],"nice":false,"zero":false},"axis":{"values":[0,0.707,1.573,2.573],"labelExpr":"datum.value < 0.3 ? 'W' : datum.value < 1 ? 'L' : datum.value < 2 ? 'Γ' : 'X'","ticks":false,"labelPadding":3,"labelFlush":false,"labelOverlap":false,"labelBound":false,"title":null}}}},
{"data":{"values":[{}]},"mark":{"type":"rule","color":"black","strokeWidth":1.5,"strokeDash":[7,4]},"encoding":{"y":{"datum":0,"type":"quantitative","scale":{"domain":[-2,3],"nice":false,"zero":false},"axis":{"orient":"right","values":[-2,-1.5,-1,-0.5,0,0.5,1,1.5,2,2.5,3],"labels":false,"tickSize":-4,"title":null}}}},
{"data":{"name":"bands"},"transform":[{"filter":{"field":"p","equal":"b2"}}],"mark":{"type":"line","interpolate":"monotone","color":"black","strokeWidth":1.7,"clip":true},"encoding":{"x":{"field":"x","type":"quantitative","scale":{"domain":[0,2.573],"nice":false,"zero":false},"axis":null},"y":{"field":"e","type":"quantitative","scale":{"domain":[-2,3],"nice":false,"zero":false},"axis":{"values":[-2,-1.5,-1,-0.5,0,0.5,1,1.5,2,2.5,3],"labels":false,"tickSize":-4,"title":null}},"detail":{"field":"b"}}},
{"data":{"name":"arrows"},"transform":[{"filter":{"field":"p","equal":"b2"}}],"mark":{"type":"line","strokeWidth":1.5,"strokeDash":[5,3]},"encoding":{"x":{"field":"x","type":"quantitative","scale":{"domain":[0,2.573],"nice":false,"zero":false},"axis":null},"y":{"field":"e","type":"quantitative","scale":{"domain":[-2,3],"nice":false,"zero":false},"axis":null},"color":{"field":"c","type":"nominal","scale":{"domain":["a","b","k"],"range":["#ee1d23","#1d1de6","#000000"]},"legend":null}}},
{"data":{"name":"arrows"},"transform":[{"filter":"datum.p == 'b2' && datum.end == 'top'"}],"mark":{"type":"point","shape":"triangle-up","filled":true,"size":30,"angle":29,"opacity":1},"encoding":{"x":{"field":"x","type":"quantitative","scale":{"domain":[0,2.573],"nice":false,"zero":false},"axis":null},"y":{"field":"e","type":"quantitative","scale":{"domain":[-2,3],"nice":false,"zero":false},"axis":null},"color":{"field":"c","type":"nominal","scale":{"domain":["a","b","k"],"range":["#ee1d23","#1d1de6","#000000"]},"legend":null}}},
{"data":{"name":"arrows"},"transform":[{"filter":"datum.p == 'b2' && datum.end == 'bot'"}],"mark":{"type":"point","shape":"triangle-up","filled":true,"size":30,"angle":209,"opacity":1},"encoding":{"x":{"field":"x","type":"quantitative","scale":{"domain":[0,2.573],"nice":false,"zero":false},"axis":null},"y":{"field":"e","type":"quantitative","scale":{"domain":[-2,3],"nice":false,"zero":false},"axis":null},"color":{"field":"c","type":"nominal","scale":{"domain":["a","b","k"],"range":["#ee1d23","#1d1de6","#000000"]},"legend":null}}},
{"data":{"name":"texts"},"transform":[{"filter":"datum.p == 'b2' && datum.r == 'lab'"}],"mark":{"type":"text","fontSize":12,"align":"center","baseline":"middle"},"encoding":{"x":{"field":"x","type":"quantitative","scale":{"domain":[0,2.573],"nice":false,"zero":false},"axis":null},"y":{"field":"e","type":"quantitative","scale":{"domain":[-2,3],"nice":false,"zero":false},"axis":null},"text":{"field":"t"},"color":{"field":"c","type":"nominal","scale":{"domain":["a","b","k"],"range":["#ee1d23","#1d1de6","#000000"]},"legend":null}}},
{"data":{"name":"texts"},"transform":[{"filter":"datum.p == 'b2' && datum.r == 'mat'"}],"mark":{"type":"text","fontSize":13,"align":"center","baseline":"middle"},"encoding":{"x":{"field":"x","type":"quantitative","scale":{"domain":[0,2.573],"nice":false,"zero":false},"axis":null},"y":{"field":"e","type":"quantitative","scale":{"domain":[-2,3],"nice":false,"zero":false},"axis":null},"text":{"field":"t"},"color":{"field":"c","type":"nominal","scale":{"domain":["a","b","k"],"range":["#ee1d23","#1d1de6","#000000"]},"legend":null}}}
]},
{"width":133,"height":153,"resolve":{"axis":{"y":"independent"}},"layer":[
{"data":{"name":"kp"},"mark":{"type":"rule","color":"#8c8c8c","strokeWidth":1.5},"encoding":{"x":{"field":"x","type":"quantitative","scale":{"domain":[0,2.573],"nice":false,"zero":false},"axis":{"values":[0,0.707,1.573,2.573],"labelExpr":"datum.value < 0.3 ? 'W' : datum.value < 1 ? 'L' : datum.value < 2 ? 'Γ' : 'X'","ticks":false,"labelPadding":3,"labelFlush":false,"labelOverlap":false,"labelBound":false,"title":null}}}},
{"data":{"values":[{}]},"mark":{"type":"rule","color":"black","strokeWidth":1.5,"strokeDash":[7,4]},"encoding":{"y":{"datum":0,"type":"quantitative","scale":{"domain":[-2,3],"nice":false,"zero":false},"axis":{"orient":"right","values":[-2,-1.5,-1,-0.5,0,0.5,1,1.5,2,2.5,3],"labels":false,"tickSize":-4,"title":null}}}},
{"data":{"name":"bands"},"transform":[{"filter":{"field":"p","equal":"b3"}}],"mark":{"type":"line","interpolate":"monotone","color":"black","strokeWidth":1.7,"clip":true},"encoding":{"x":{"field":"x","type":"quantitative","scale":{"domain":[0,2.573],"nice":false,"zero":false},"axis":null},"y":{"field":"e","type":"quantitative","scale":{"domain":[-2,3],"nice":false,"zero":false},"axis":{"values":[-2,-1.5,-1,-0.5,0,0.5,1,1.5,2,2.5,3],"labels":false,"tickSize":-4,"title":null}},"detail":{"field":"b"}}},
{"data":{"name":"arrows"},"transform":[{"filter":{"field":"p","equal":"b3"}}],"mark":{"type":"line","strokeWidth":1.5,"strokeDash":[5,3]},"encoding":{"x":{"field":"x","type":"quantitative","scale":{"domain":[0,2.573],"nice":false,"zero":false},"axis":null},"y":{"field":"e","type":"quantitative","scale":{"domain":[-2,3],"nice":false,"zero":false},"axis":null},"color":{"field":"c","type":"nominal","scale":{"domain":["a","b","k"],"range":["#ee1d23","#1d1de6","#000000"]},"legend":null}}},
{"data":{"name":"arrows"},"transform":[{"filter":"datum.p == 'b3' && datum.end == 'top'"}],"mark":{"type":"point","shape":"triangle-up","filled":true,"size":30,"angle":27,"opacity":1},"encoding":{"x":{"field":"x","type":"quantitative","scale":{"domain":[0,2.573],"nice":false,"zero":false},"axis":null},"y":{"field":"e","type":"quantitative","scale":{"domain":[-2,3],"nice":false,"zero":false},"axis":null},"color":{"field":"c","type":"nominal","scale":{"domain":["a","b","k"],"range":["#ee1d23","#1d1de6","#000000"]},"legend":null}}},
{"data":{"name":"arrows"},"transform":[{"filter":"datum.p == 'b3' && datum.end == 'bot'"}],"mark":{"type":"point","shape":"triangle-up","filled":true,"size":30,"angle":207,"opacity":1},"encoding":{"x":{"field":"x","type":"quantitative","scale":{"domain":[0,2.573],"nice":false,"zero":false},"axis":null},"y":{"field":"e","type":"quantitative","scale":{"domain":[-2,3],"nice":false,"zero":false},"axis":null},"color":{"field":"c","type":"nominal","scale":{"domain":["a","b","k"],"range":["#ee1d23","#1d1de6","#000000"]},"legend":null}}},
{"data":{"name":"texts"},"transform":[{"filter":"datum.p == 'b3' && datum.r == 'lab'"}],"mark":{"type":"text","fontSize":12,"align":"center","baseline":"middle"},"encoding":{"x":{"field":"x","type":"quantitative","scale":{"domain":[0,2.573],"nice":false,"zero":false},"axis":null},"y":{"field":"e","type":"quantitative","scale":{"domain":[-2,3],"nice":false,"zero":false},"axis":null},"text":{"field":"t"},"color":{"field":"c","type":"nominal","scale":{"domain":["a","b","k"],"range":["#ee1d23","#1d1de6","#000000"]},"legend":null}}},
{"data":{"name":"texts"},"transform":[{"filter":"datum.p == 'b3' && datum.r == 'E'"}],"mark":{"type":"text","fontSize":13,"align":"left","baseline":"middle","dx":3},"encoding":{"x":{"field":"x","type":"quantitative","scale":{"domain":[0,2.573],"nice":false,"zero":false},"axis":null},"y":{"field":"e","type":"quantitative","scale":{"domain":[-2,3],"nice":false,"zero":false},"axis":null},"text":{"field":"t"},"color":{"field":"c","type":"nominal","scale":{"domain":["a","b","k"],"range":["#ee1d23","#1d1de6","#000000"]},"legend":null}}},
{"data":{"name":"texts"},"transform":[{"filter":"datum.p == 'b3' && datum.r == 'F'"}],"mark":{"type":"text","fontSize":9,"align":"left","baseline":"middle","dx":11},"encoding":{"x":{"field":"x","type":"quantitative","scale":{"domain":[0,2.573],"nice":false,"zero":false},"axis":null},"y":{"field":"e","type":"quantitative","scale":{"domain":[-2,3],"nice":false,"zero":false},"axis":null},"text":{"field":"t"},"color":{"field":"c","type":"nominal","scale":{"domain":["a","b","k"],"range":["#ee1d23","#1d1de6","#000000"]},"legend":null}}}
]}
]
}
